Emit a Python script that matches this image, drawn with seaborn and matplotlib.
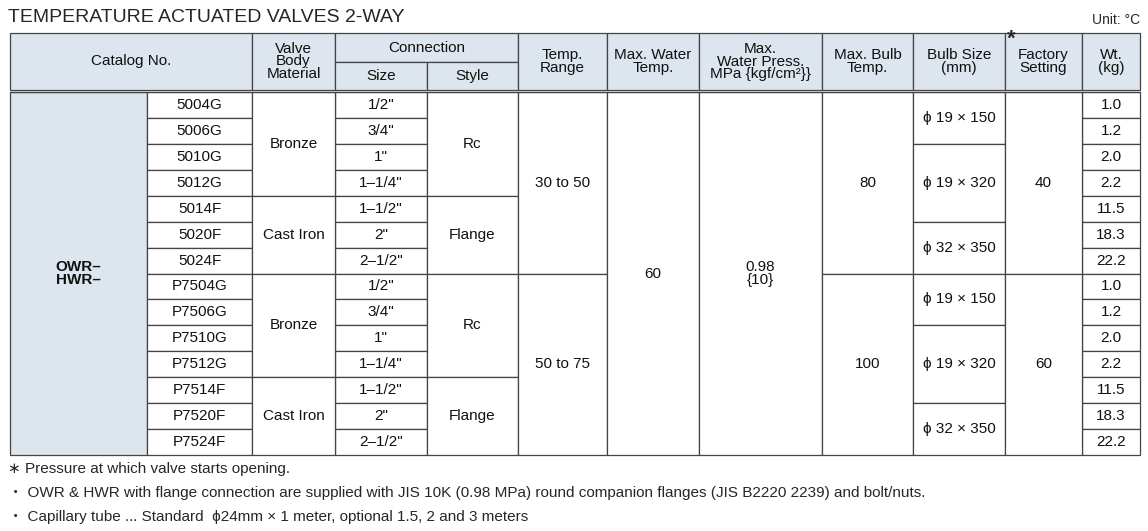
import matplotlib
matplotlib.use("Agg")
import matplotlib.pyplot as plt
import seaborn as sns
from matplotlib.patches import Rectangle

sns.set_theme(style="white")
plt.rcParams['font.family'] = ['Liberation Sans', 'DejaVu Sans']

# ---- data ----
catalog = ["5004G", "5006G", "5010G", "5012G", "5014F", "5020F", "5024F",
           "P7504G", "P7506G", "P7510G", "P7512G", "P7514F", "P7520F", "P7524F"]
sizes = ['1/2"', '3/4"', '1"', '1\u20131/4"', '1\u20131/2"', '2"', '2\u20131/2"'] * 2
weights = ["1.0", "1.2", "2.0", "2.2", "11.5", "18.3", "22.2"] * 2
# merged groups: (first row, last row, text)
materials = [(0, 3, "Bronze"), (4, 6, "Cast Iron"), (7, 10, "Bronze"), (11, 13, "Cast Iron")]
styles = [(0, 3, "Rc"), (4, 6, "Flange"), (7, 10, "Rc"), (11, 13, "Flange")]
temp_range = [(0, 6, "30 to 50"), (7, 13, "50 to 75")]
max_water_temp = [(0, 13, "60")]
max_press = [(0, 13, "0.98\n{10}")]
max_bulb = [(0, 6, "80"), (7, 13, "100")]
bulb_size = [(0, 1, "\u03d5 19 \u00d7 150"), (2, 4, "\u03d5 19 \u00d7 320"), (5, 6, "\u03d5 32 \u00d7 350"),
             (7, 8, "\u03d5 19 \u00d7 150"), (9, 11, "\u03d5 19 \u00d7 320"), (12, 13, "\u03d5 32 \u00d7 350")]
factory = [(0, 6, "40"), (7, 13, "60")]
notes = ["\u2217 Pressure at which valve starts opening.",
         "\u30fb OWR & HWR with flange connection are supplied with JIS 10K (0.98 MPa) round companion flanges (JIS B2220 2239) and bolt/nuts.",
         "\u30fb Capillary tube ... Standard  \u03d524mm \u00d7 1 meter, optional 1.5, 2 and 3 meters"]

# ---- layout (pixels) ----
W, H = 1148, 531
cols = [10, 147, 252, 335, 427, 518, 607, 699, 822, 913, 1005, 1082, 1140]
top, mid, hbot, body0, body1 = 33, 62, 90, 92, 455
nrows = len(catalog)
rh = (body1 - body0) / nrows
hdr_bg = "#dde5ee"
edge = "#444444"
fs = 11

fig = plt.figure(figsize=(W / 100, H / 100), dpi=100)
ax = fig.add_axes([0, 0, 1, 1])
ax.set_xlim(0, W)
ax.set_ylim(H, 0)
ax.axis("off")


def box(x0, x1, y0, y1, text="", bg="white", **kw):
    ax.add_patch(Rectangle((x0, y0), x1 - x0, y1 - y0, facecolor=bg, edgecolor=edge, lw=0.9))
    if text:
        ax.text((x0 + x1) / 2, (y0 + y1) / 2, text, ha="center", va="center",
                fontsize=fs, color="#111111", linespacing=0.9, **kw)


def ry(r):
    return body0 + r * rh


# header
box(cols[0], cols[2], top, hbot, "Catalog No.", hdr_bg)
box(cols[2], cols[3], top, hbot, "Valve\nBody\nMaterial", hdr_bg)
box(cols[3], cols[5], top, mid, "Connection", hdr_bg)
box(cols[3], cols[4], mid, hbot, "Size", hdr_bg)
box(cols[4], cols[5], mid, hbot, "Style", hdr_bg)
heads = ["Temp.\nRange", "Max. Water\nTemp.", "Max.\nWater Press.\nMPa {kgf/cm\u00b2}}",
         "Max. Bulb\nTemp.", "Bulb Size\n(mm)", "Factory\nSetting", "Wt.\n(kg)"]
for i, h in enumerate(heads):
    box(cols[5 + i], cols[6 + i], top, hbot, h, hdr_bg)
ax.text(cols[10] + 2, top + 6, "*", fontsize=16, ha="left", va="center", fontweight="bold")
ax.plot([cols[0], cols[-1]], [hbot + 2, hbot + 2], color=edge, lw=0.9)

# body
box(cols[0], cols[1], body0, body1, "OWR\u2013\nHWR\u2013", hdr_bg, fontweight="bold")
for r in range(nrows):
    box(cols[1], cols[2], ry(r), ry(r + 1), catalog[r])
    box(cols[3], cols[4], ry(r), ry(r + 1), sizes[r])
    box(cols[11], cols[12], ry(r), ry(r + 1), weights[r])
for ci, groups in [(2, materials), (4, styles), (5, temp_range), (6, max_water_temp),
                   (7, max_press), (8, max_bulb), (9, bulb_size), (10, factory)]:
    for r0, r1, t in groups:
        box(cols[ci], cols[ci + 1], ry(r0), ry(r1 + 1), t)

# titles and notes
ax.text(8, 17, "TEMPERATURE ACTUATED VALVES 2-WAY", fontsize=14, ha="left", va="center")
ax.text(1140, 20, "Unit: \u00b0C", fontsize=10, ha="right", va="center")
for i, n in enumerate(notes):
    ax.text(8, 469 + 24 * i, n, fontsize=fs, ha="left", va="center",
            family=['Liberation Sans', 'Noto Sans CJK JP', 'DejaVu Sans'])

fig.savefig("out.png", dpi=100)
